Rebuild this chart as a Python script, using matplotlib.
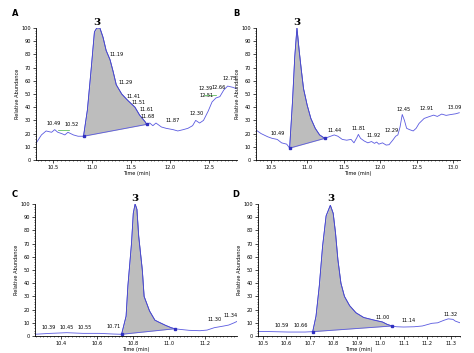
import matplotlib
matplotlib.use("Agg")
import matplotlib.pyplot as plt
from matplotlib.ticker import MultipleLocator
import numpy as np

# ---- panel A ----
a_time = [10.28, 10.35, 10.41, 10.48, 10.52, 10.56, 10.61, 10.65, 10.69, 10.76, 10.82, 10.89,
          10.94, 10.99, 11.03, 11.06, 11.10, 11.14, 11.18, 11.23, 11.27, 11.31, 11.38, 11.46,
          11.55, 11.61, 11.68, 11.70, 11.74, 11.78, 11.82, 11.89, 11.95, 12.04, 12.10, 12.17,
          12.23, 12.29, 12.33, 12.38, 12.43, 12.49, 12.54, 12.59, 12.64, 12.69, 12.74, 12.81, 12.85]
a_abund = [12.6, 19, 22, 21, 23, 21, 20, 19, 21, 19, 18, 18,
           38, 70, 97, 100, 100, 93, 83, 76, 67, 57, 50, 45,
           40, 34, 29, 27, 28, 26, 28, 25, 24, 23, 22, 23,
           24, 26, 30, 28, 30, 37, 44, 47, 48, 53, 56, 55, 54]
a_peak = (10.89, 11.70)
a_labels = ["10.49", "10.52", "11.19", "11.29", "11.41", "11.51", "11.61", "11.68", "11.87",
            "12.30", "12.39", "12.51", "12.66", "12.75"]
a_lab_t = [10.51, 10.74, 11.31, 11.43, 11.53, 11.60, 11.70, 11.72, 12.03, 12.34, 12.46, 12.47, 12.63, 12.76]
a_lab_v = [25.5, 25, 78, 57, 46, 42, 36, 31, 28, 33, 52, 47, 53, 60]

# ---- panel B ----
b_time = [10.30, 10.37, 10.46, 10.52, 10.59, 10.65, 10.72, 10.76, 10.80, 10.83, 10.86, 10.89,
          10.92, 10.95, 11.00, 11.05, 11.11, 11.17, 11.24, 11.30, 11.37, 11.42, 11.48, 11.54,
          11.60, 11.64, 11.68, 11.70, 11.73, 11.78, 11.83, 11.88, 11.92, 11.95, 11.98, 12.03,
          12.08, 12.12, 12.17, 12.21, 12.24, 12.27, 12.30, 12.33, 12.36, 12.40, 12.45, 12.49,
          12.53, 12.60, 12.66, 12.73, 12.78, 12.84, 12.90, 12.97, 13.03, 13.08]
b_abund = [22.7, 20, 17.6, 16.4, 15.6, 13, 12, 9, 45, 78, 100, 83,
           68, 54, 41.5, 31.5, 24, 19, 16.4, 17.6, 19, 18, 15.6, 15,
           15.6, 13, 17, 19.4, 16.4, 14.4, 13, 14, 12.6, 13.6, 12, 13,
           11.3, 11.6, 15, 18, 19, 25, 34.5, 30, 24, 23, 22, 24,
           27.7, 31.5, 32.7, 34, 33, 34.8, 33.8, 34.5, 35, 35.8]
b_peak = (10.76, 11.24)
b_labels = ["10.49", "11.44", "11.81", "11.92", "12.29", "12.45", "12.91", "13.09"]
b_lab_t = [10.59, 11.37, 11.71, 11.91, 12.16, 12.32, 12.63, 13.02]
b_lab_v = [18, 20.6, 22, 16.4, 20.6, 36.5, 37, 37.8]

# ---- panel C ----
c_time = [10.25, 10.34, 10.43, 10.52, 10.61, 10.69, 10.735, 10.76, 10.77, 10.79, 10.80, 10.81,
          10.82, 10.83, 10.85, 10.86, 10.89, 10.92, 10.94, 10.98, 11.01, 11.03, 11.06, 11.11,
          11.17, 11.21, 11.25, 11.30, 11.33, 11.36, 11.38]
c_abund = [1.3, 2, 2.5, 2, 2, 1.5, 1.3, 15, 38, 70, 93, 100,
           96, 75.5, 50, 30, 19, 12, 10.6, 8, 6.3, 5.5, 5, 4.3,
           4, 4.5, 6.3, 7.5, 8.3, 10, 11.3]
c_peak = (10.735, 11.03)
c_labels = ["10.39", "10.45", "10.55", "10.71", "11.30", "11.34"]
c_lab_t = [10.33, 10.43, 10.53, 10.69, 11.25, 11.34]
c_lab_v = [4.5, 4.5, 4.5, 5, 10.8, 13.8]

# ---- panel D ----
d_time = [10.48, 10.54, 10.61, 10.68, 10.713, 10.727, 10.741, 10.755, 10.77, 10.788, 10.80,
          10.81, 10.82, 10.833, 10.848, 10.87, 10.897, 10.93, 10.975, 11.01, 11.03, 11.05,
          11.07, 11.10, 11.145, 11.18, 11.22, 11.245, 11.27, 11.29, 11.31, 11.32, 11.34]
d_abund = [3.5, 3.3, 3, 3, 3.3, 15, 38, 68, 91, 99, 93,
           78, 58, 40, 30, 23, 17.6, 14, 12, 10.6, 8.8, 7.6,
           7, 6.8, 7, 7.6, 9.6, 10, 11.8, 13, 12.6, 11.3, 10]
d_peak = (10.713, 11.05)
d_labels = ["10.59", "10.66", "11.00", "11.14", "11.32"]
d_lab_t = [10.58, 10.66, 11.01, 11.12, 11.30]
d_lab_v = [6.3, 6.3, 12, 10, 14.6]

line_col = "#5a5ae0"
fs = 3.6

fig = plt.figure(figsize=(4.74, 3.53), dpi=100)


def panel(rect, t, v, peak, labs, lt, lv, xlim, xmaj, xmin, num_t):
    ax = fig.add_axes(rect)
    t = np.array(t)
    v = np.array(v)
    ax.plot(t, v, color=line_col, lw=0.6)

    # peak area with straight baseline
    t0, t1 = peak
    v0 = np.interp(t0, t, v)
    v1 = np.interp(t1, t, v)
    m = (t >= t0) & (t <= t1)
    pt = np.concatenate([[t0], t[m], [t1]])
    pv = np.concatenate([[v0], v[m], [v1]])
    base = v0 + (pt - t0) * (v1 - v0) / (t1 - t0)
    ax.fill_between(pt, base, pv, color="#bdbdbd", lw=0)
    ax.plot(pt, pv, color="#4848c8", lw=0.6)
    ax.plot([t0, t1], [v0, v1], color=line_col, lw=0.6)
    ax.plot([t0, t1], [v0, v1], "s", color="#3030c0", ms=1.8, mfc="#3030c0")

    for s, x, y in zip(labs, lt, lv):
        ax.text(x, y, s, fontsize=fs, ha="center", va="bottom")

    ax.text(num_t, 101, "3", fontsize=7.5, fontweight="bold", family="DejaVu Serif",
            ha="center", va="bottom")

    ax.set_xlim(xlim)
    ax.set_ylim(0, 100)
    ax.xaxis.set_major_locator(MultipleLocator(xmaj))
    ax.xaxis.set_minor_locator(MultipleLocator(xmin))
    ax.yaxis.set_major_locator(MultipleLocator(10))
    ax.yaxis.set_minor_locator(MultipleLocator(2))
    ax.tick_params(which="major", length=2, width=0.5, labelsize=fs, pad=1.5)
    ax.tick_params(which="minor", length=1, width=0.4)
    ax.spines["top"].set_visible(False)
    ax.spines["right"].set_visible(False)
    ax.spines["left"].set_linewidth(0.6)
    ax.spines["bottom"].set_linewidth(0.6)
    ax.set_xlabel("Time (min)", fontsize=fs, labelpad=1)
    ax.set_ylabel("Relative Abundance", fontsize=fs, labelpad=1)
    ax.patch.set_alpha(0)
    return ax


axA = panel([36 / 474, 193 / 353, 201 / 474, 132 / 353], a_time, a_abund, a_peak,
            a_labels, a_lab_t, a_lab_v, (10.28, 12.86), 0.5, 0.05, 11.06)
axA.plot([10.56, 10.70], [23, 23], color="#40b040", lw=0.5)
axA.plot([12.44, 12.59], [49, 49], color="#40b040", lw=0.5)

axB = panel([256 / 474, 193 / 353, 204 / 474, 132 / 353], b_time, b_abund, b_peak,
            b_labels, b_lab_t, b_lab_v, (10.30, 13.09), 0.5, 0.05, 10.86)

axC = panel([35 / 474, 17 / 353, 202 / 474, 132 / 353], c_time, c_abund, c_peak,
            c_labels, c_lab_t, c_lab_v, (10.254, 11.376), 0.2, 0.02, 10.81)

axD = panel([258 / 474, 17 / 353, 202 / 474, 132 / 353], d_time, d_abund, d_peak,
            d_labels, d_lab_t, d_lab_v, (10.48, 11.34), 0.1, 0.02, 10.79)

fig.text(15 / 474, 1 - 13 / 353, "A", fontsize=6, fontweight="bold", ha="center", va="center")
fig.text(236 / 474, 1 - 13 / 353, "B", fontsize=6, fontweight="bold", ha="center", va="center")
fig.text(15 / 474, 1 - 194 / 353, "C", fontsize=6, fontweight="bold", ha="center", va="center")
fig.text(236 / 474, 1 - 194 / 353, "D", fontsize=6, fontweight="bold", ha="center", va="center")

fig.savefig("out.png", dpi=100)
